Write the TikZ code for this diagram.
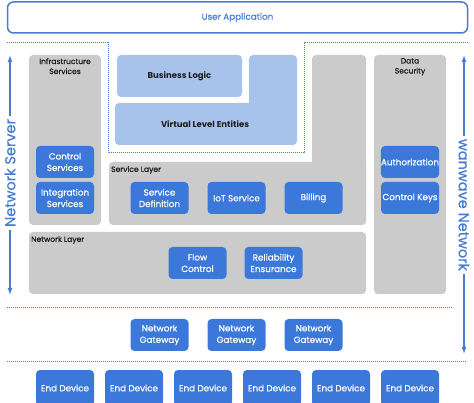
\documentclass[tikz,border=0pt]{standalone}
\usepackage{fontspec}
\setmainfont{Poppins}
\newfontfamily\medfont{Poppins}[FakeBold=0.6]
\usepackage{tikz}
\usetikzlibrary {arrows.meta,
                 positioning}
\definecolor{boxblue}{HTML}{3B78D9}
\definecolor{lightblue}{HTML}{A8C3EB}
\definecolor{panelgray}{HTML}{CBCBCB}
\definecolor{lineblue}{HTML}{4A7BD0}
\definecolor{darktext}{HTML}{1C1C1C}
\tikzset{
         blk/.style={fill=boxblue, text=white, rounded corners=4pt, minimum width=58pt, minimum height=32pt,
                     align=center, inner sep=0pt, outer sep=0pt, font=\medfont\fontsize{8.8}{11.5}\selectfont},
         lblk/.style={fill=lightblue, text=darktext, rounded corners=4pt, inner sep=0pt, outer sep=0pt,
                      font=\fontsize{8.5}{10}\selectfont\bfseries},
         panel/.style={fill=panelgray, rounded corners=4pt},
         paneltext/.style={text=darktext, align=center, inner sep=0pt, font=\medfont\fontsize{7.6}{10}\selectfont},
         sidetext/.style={text=lineblue, inner sep=3pt, font=\medfont\fontsize{14.5}{16}\selectfont},
         myarrow/.style={-{Latex[length=7pt,width=5pt]}, lineblue, line width=1.3pt},
         dotline/.style={lineblue, line width=1pt, dash pattern=on 1pt off 1pt},
}

\begin{document}
\begin{tikzpicture}[x=1pt, y=-1pt]
    \useasboundingbox (0,0) rectangle (474,403);

    % User Application
    \node[draw=lineblue, line width=1.5pt, rounded corners=6pt, minimum width=460pt, minimum height=31pt,
          text=lineblue, font=\medfont\fontsize{8.8}{10}\selectfont] (app) at (237.5,17.5) {User Application};

    % dotted borders
    \draw[dotline] (7,43) -- (108,43) -- (108,153) -- (304,153) -- (304,43) -- (468,43);
    \draw[dotline] (7,308) -- (452,308);
    \draw[dotline] (7,362) -- (467,362);

    % gray panels
    \fill[panel] (29,55) rectangle (101,225);
    \fill[panel] (312,55) rectangle (366,225);
    \fill[panel] (109,162) rectangle (366,225);
    \fill[panel] (29,232) rectangle (366,294);
    \fill[panel] (374,55) rectangle (446,294);

    \node[paneltext, anchor=north] (infra) at (65,58) {Infrastructure\\Services};
    \node[paneltext, anchor=north] (sec) at (410,58) {Data\\Security};
    \node[paneltext, anchor=west] (svclayer) at (111,170) {Service Layer};
    \node[paneltext, anchor=west] (netlayer) at (31,240) {Network Layer};

    % light blue blocks
    \node[lblk, minimum width=48pt, minimum height=90pt] (col) at (273,100) {};
    \node[lblk, minimum width=125pt, minimum height=42pt] (logic) at (179.5,76) {Business Logic};
    \node[lblk, minimum width=180pt, minimum height=42pt] (vle) at (205,124) {Virtual Level Entities};

    % Infrastructure
    \node[blk] (ctrl) at (65,162) {Control\\Services};
    \node[blk, below=4pt of ctrl] (integ) {Integration\\Services};

    % Data Security
    \node[blk] (auth) at (410,162) {Authorization};
    \node[blk, below=4pt of auth] (keys) {Control Keys};

    % Service Layer
    \node[blk] (svcdef) at (159.5,198) {Service\\Definition};
    \node[blk, right=19pt of svcdef] (iot) {IoT Service};
    \node[blk, right=19pt of iot] (bill) {Billing};

    % Network Layer
    \node[blk] (flow) at (197.5,263) {Flow\\Control};
    \node[blk, right=18pt of flow] (rel) {Reliability\\Ensurance};

    % Gateways
    \node[blk] (gw1) at (159.5,335) {Network\\Gateway};
    \node[blk, right=19pt of gw1] (gw2) {Network\\Gateway};
    \node[blk, right=19pt of gw2] (gw3) {Network\\Gateway};

    % End Devices
    \node[blk, minimum height=36pt] (ed1) at (65,388) {End Device};
    \node[blk, minimum height=36pt, right=11pt of ed1] (ed2) {End Device};
    \node[blk, minimum height=36pt, right=11pt of ed2] (ed3) {End Device};
    \node[blk, minimum height=36pt, right=11pt of ed3] (ed4) {End Device};
    \node[blk, minimum height=36pt, right=11pt of ed4] (ed5) {End Device};
    \node[blk, minimum height=36pt, right=11pt of ed5] (ed6) {End Device};

    % side arrows
    \node[sidetext, rotate=90] (srv) at (10,173) {Network Server};
    \coordinate (srvtop) at (10,55);
    \coordinate (srvbot) at (10,295);
    \draw[myarrow] (srv.east) -- (srvtop);
    \draw[myarrow] (srv.west) -- (srvbot);

    \node[sidetext, rotate=-90] (wan) at (464,205) {wanwave Network};
    \coordinate (wantop) at (464,55);
    \coordinate (wanbot) at (464,354);
    \draw[myarrow] (wan.west) -- (wantop);
    \draw[myarrow] (wan.east) -- (wanbot);
\end{tikzpicture}
\end{document}
